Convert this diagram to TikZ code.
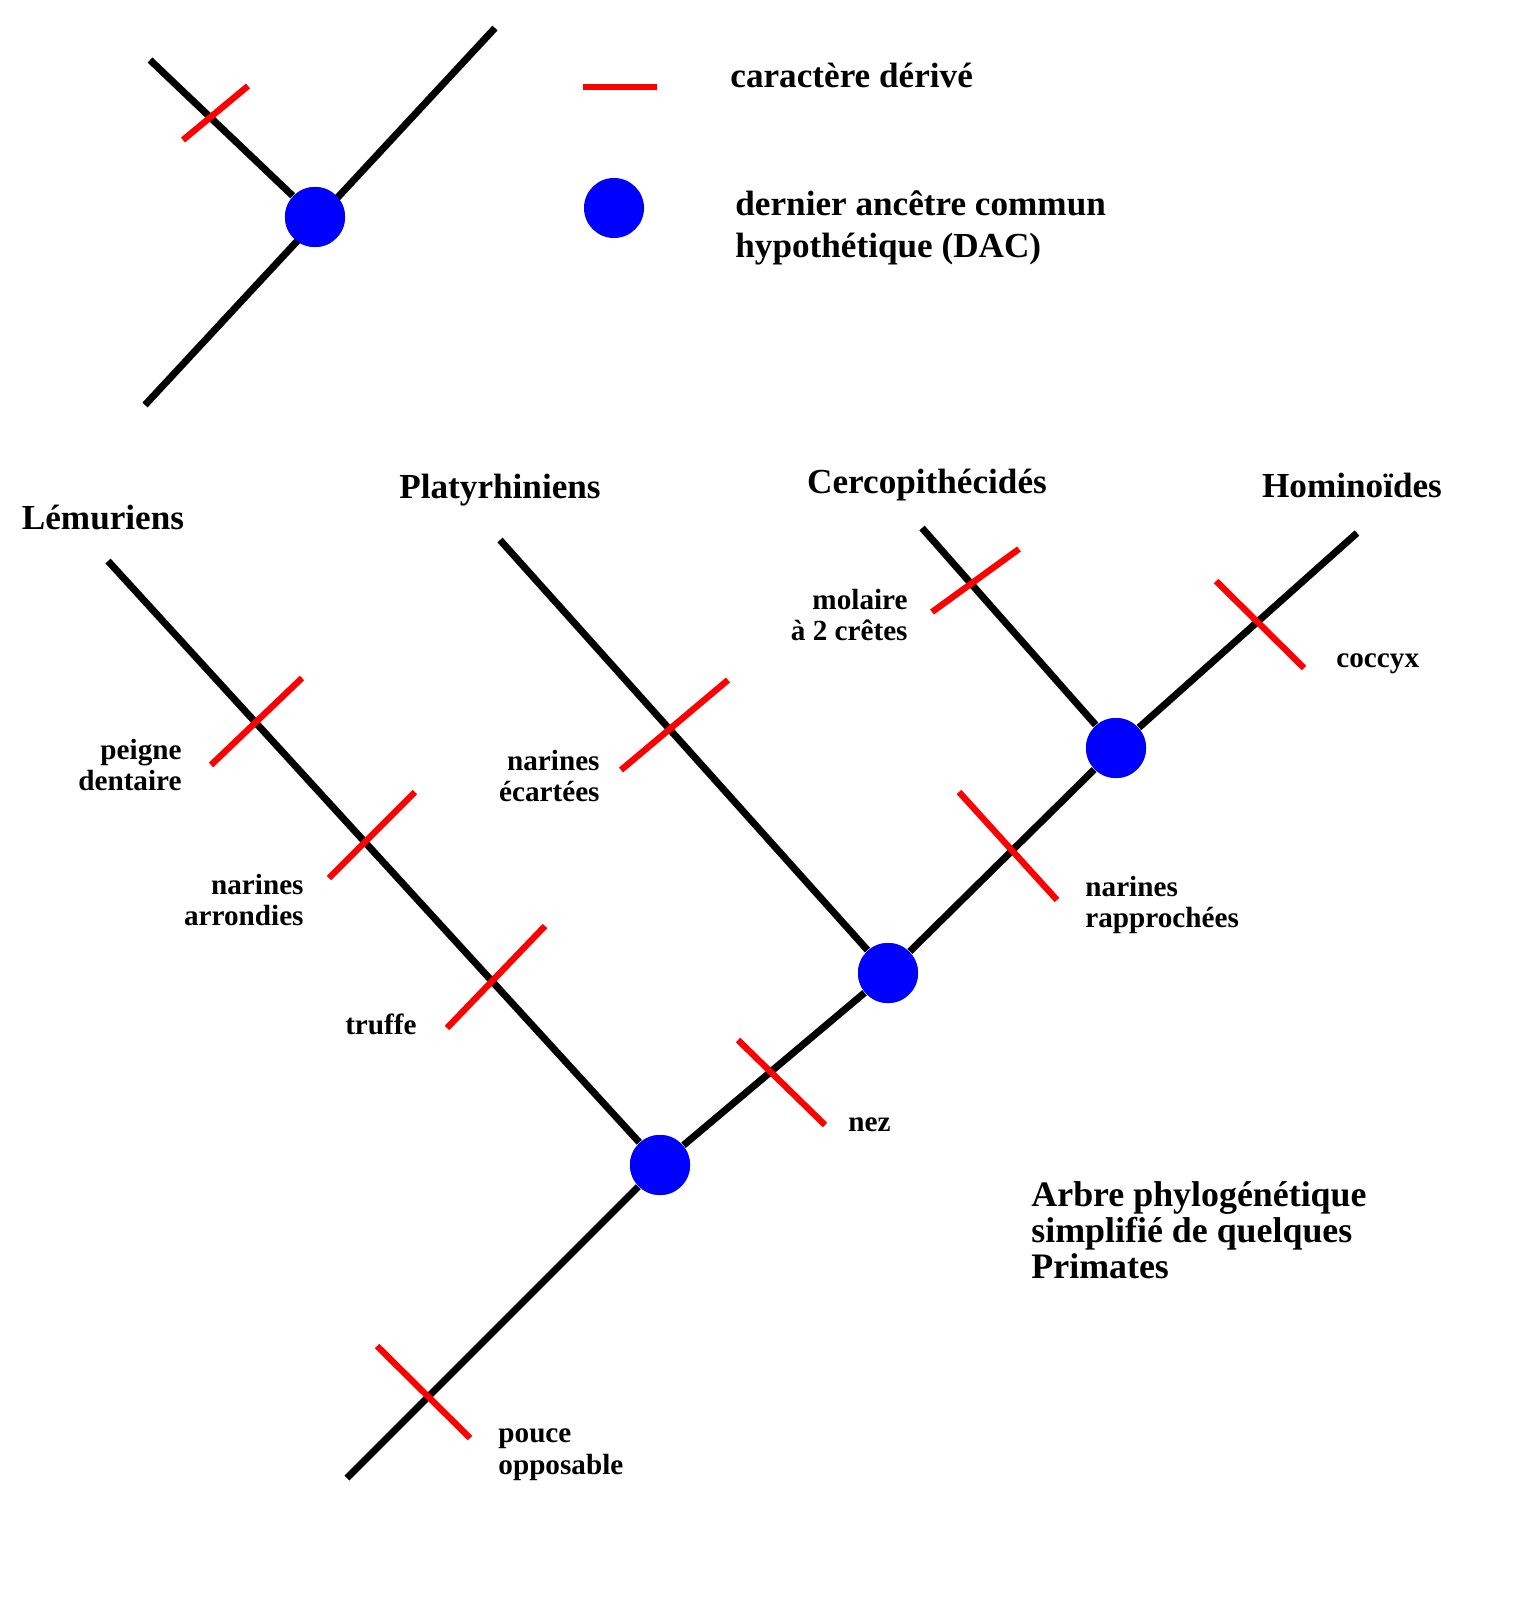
\documentclass[tikz,border=0pt]{standalone}
\usepackage{fontspec}
\setmainfont{Liberation Serif}
\begin{document}
\begin{tikzpicture}[x=0.01cm,y=-0.01cm,
  branche/.style={line width=2pt,black},
  trait/.style={line width=1.8pt,red},
  dac/.style={circle,fill=blue,inner sep=0pt,minimum size=0.6cm},
  taxon/.style={font=\bfseries\fontsize{10}{12}\selectfont},
  carac/.style={font=\bfseries\fontsize{8.3}{9}\selectfont,align=right,anchor=east},
  caracd/.style={font=\bfseries\fontsize{8.3}{9}\selectfont,align=left,anchor=west}]
\useasboundingbox (0,0) rectangle (1515,1600);

%legende
\coordinate (la) at (150,60);
\coordinate (lb) at (145,405);
\coordinate (lc) at (495,28);
\node[dac] (ld) at (315,217) {};
\draw[branche] (lb) -- (lc);
\draw[branche] (la) -- (ld);
\node[dac] at (ld) {};
\draw[trait] (183,140) -- (248,86);
\draw[trait] (583,87) -- (657,87);
\node[taxon,anchor=west] (lt1) at (718,75) {caractère dérivé};
\node[dac] (lp) at (614,208) {};
\node[taxon,anchor=west,align=left] (lt2) at (723,228) {dernier ancêtre commun\\hypothétique (DAC)};

%arbre
\coordinate (rac) at (347,1478);
\node[dac] (n1) at (660,1165) {};
\node[dac] (n2) at (888,973) {};
\node[dac] (n3) at (1116,748) {};
\coordinate (lem) at (108,561);
\coordinate (pla) at (500,540);
\coordinate (cer) at (922,528);
\coordinate (hom) at (1357,533);
\draw[branche] (rac) -- (n1) -- (n2) -- (n3) -- (hom);
\draw[branche] (lem) -- (n1);
\draw[branche] (pla) -- (n2);
\draw[branche] (cer) -- (n3);
\node[dac] at (n1) {};
\node[dac] at (n2) {};
\node[dac] at (n3) {};

\node[taxon] (t1) at (103,517) {Lémuriens};
\node[taxon] (t2) at (500,490) {Platyrhiniens};
\node[taxon] (t3) at (927,485) {Cercopithécidés};
\node[taxon] (t4) at (1352,485) {Hominoïdes};

%caracteres derives
\draw[trait] (211,765) -- (302,678);
\draw[trait] (329,878) -- (415,792);
\draw[trait] (447,1028) -- (545,926);
\draw[trait] (621,770) -- (728,680);
\draw[trait] (932,612) -- (1019,549);
\draw[trait] (1216,581) -- (1304,668);
\draw[trait] (959,792) -- (1057,900);
\draw[trait] (738,1040) -- (825,1125);
\draw[trait] (377,1346) -- (470,1438);

\node[carac] (c1) at (194,765) {peigne\\dentaire};
\node[carac] (c2) at (316,900) {narines\\arrondies};
\node[carac] (c3) at (429,1024) {truffe};
\node[carac] (c4) at (612,776) {narines\\écartées};
\node[carac] (c5) at (920,615) {molaire\\à 2 crêtes};
\node[caracd] (c6) at (1324,664) {coccyx};
\node[caracd] (c7) at (1073,905) {narines\\rapprochées};
\node[caracd] (c8) at (836,1125) {nez};
\node[caracd] (c9) at (486,1455) {pouce\\opposable};

\node[taxon,anchor=west,align=left,font=\bfseries\fontsize{10.2}{10.3}\selectfont] (titre) at (1019,1230) {Arbre phylogénétique\\simplifié de quelques\\Primates};
\end{tikzpicture}
\end{document}
